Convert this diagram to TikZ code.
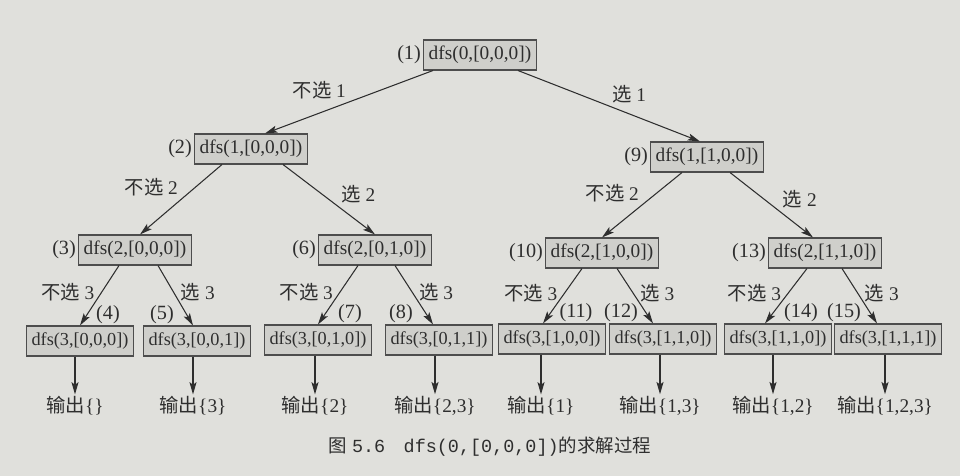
\documentclass[tikz,border=0pt]{standalone}
\usepackage{fontspec}
\setmainfont{Liberation Serif}
\setmonofont{Liberation Mono}
\newfontfamily\cjk{Noto Sans CJK SC}
\usetikzlibrary{arrows.meta}
\definecolor{dfspaper}{HTML}{E0E0DC}
\definecolor{dfsbox}{HTML}{CFCFCB}
\definecolor{dfsink}{HTML}{2E2E2E}

\begin{document}
\begin{tikzpicture}[x=0.2mm, y=-0.2mm,
    every node/.style={text=dfsink, font=\fontsize{11.5}{13}\selectfont},
    every label/.style={inner sep=1pt},
    call/.style={draw=dfsink!85, fill=dfsbox, minimum height=6mm, inner xsep=3pt, inner ysep=1pt, line width=0.6pt, label distance=0.6mm, font=\fontsize{11}{13}\selectfont},
    leaf/.style={call, font=\fontsize{10.4}{12}\selectfont},
    arr/.style={draw=dfsink, line width=0.6pt, -{Stealth[length=7pt, width=4pt, inset=1.5pt]}},
    choice/.style={font=\fontsize{11}{13}\selectfont, inner sep=1.5pt},
    result/.style={font=\fontsize{11}{13}\selectfont, inner sep=1pt}
  ]
  \fill[dfspaper] (0,0) rectangle (960,476);

  % calls, level 0 and 1
  \node[call, label=left:(1)] (n1) at (480,55) {dfs(0,[0,0,0])};
  \node[call, label=left:(2)] (n2) at (251,149) {dfs(1,[0,0,0])};
  \node[call, label=left:(9)] (n9) at (707,157) {dfs(1,[1,0,0])};

  % calls, level 2
  \node[call, label=left:(3)] (n3) at (135,250) {dfs(2,[0,0,0])};
  \node[call, label=left:(6)] (n6) at (375,250) {dfs(2,[0,1,0])};
  \node[call, label=left:(10)] (n10) at (602,253) {dfs(2,[1,0,0])};
  \node[call, label=left:(13)] (n13) at (825,253) {dfs(2,[1,1,0])};

  % calls, level 3
  \node[leaf, label={[xshift=5.6mm]above:(4)}] (n4) at (80,341) {dfs(3,[0,0,0])};
  \node[leaf, label={[xshift=-7mm]above:(5)}] (n5) at (197,341) {dfs(3,[0,0,1])};
  \node[leaf, label={[xshift=6.4mm]above:(7)}] (n7) at (318,340) {dfs(3,[0,1,0])};
  \node[leaf, label={[xshift=-7.6mm]above:(8)}] (n8) at (439,340) {dfs(3,[0,1,1])};
  \node[leaf, label={[xshift=4.8mm]above:(11)}] (n11) at (552,339) {dfs(3,[1,0,0])};
  \node[leaf, label={[xshift=-8.4mm]above:(12)}] (n12) at (663,339) {dfs(3,[1,1,0])};
  \node[leaf, label={[xshift=4.6mm]above:(14)}] (n14) at (778,339) {dfs(3,[1,1,0])};
  \node[leaf, label={[xshift=-8.8mm]above:(15)}] (n15) at (888,339) {dfs(3,[1,1,1])};

  % outputs
  \node[result] (o4) at (75,406) {{\cjk 输出}\{\}};
  \node[result] (o5) at (193,406) {{\cjk 输出}\{3\}};
  \node[result] (o7) at (315,406) {{\cjk 输出}\{2\}};
  \node[result] (o8) at (435,406) {{\cjk 输出}\{2,3\}};
  \node[result] (o11) at (541,406) {{\cjk 输出}\{1\}};
  \node[result] (o12) at (660,406) {{\cjk 输出}\{1,3\}};
  \node[result] (o14) at (773,406) {{\cjk 输出}\{1,2\}};
  \node[result] (o15) at (885,406) {{\cjk 输出}\{1,2,3\}};

  % choices
  \draw[arr] ([xshift=-9.4mm]n1.south) -- node[choice, midway, above left] {{\cjk 不选} 1} ([xshift=2.8mm]n2.north);
  \draw[arr] ([xshift=7.6mm]n1.south) -- node[choice, midway, above right] {{\cjk 选} 1} ([xshift=-1.4mm]n9.north);
  \draw[arr] ([xshift=-5.8mm]n2.south) -- node[choice, midway, above left] {{\cjk 不选} 2} ([xshift=1mm]n3.north);
  \draw[arr] ([xshift=6.4mm]n2.south) -- node[choice, pos=0.6, above right] {{\cjk 选} 2} (n6.north);
  \draw[arr] ([xshift=-5mm]n9.south) -- node[choice, midway, above left] {{\cjk 不选} 2} (n10.north);
  \draw[arr] ([xshift=4.6mm]n9.south) -- node[choice, pos=0.6, above right] {{\cjk 选} 2} ([xshift=-2.4mm]n13.north);

  \draw[arr] ([xshift=-3.2mm]n3.south) -- node[choice, pos=0.45, left=0.8mm] {{\cjk 不选} 3} (n4.north);
  \draw[arr] ([xshift=4.6mm]n3.south) -- node[choice, pos=0.45, right=0.8mm] {{\cjk 选} 3} ([xshift=-0.8mm]n5.north);
  \draw[arr] ([xshift=-3.4mm]n6.south) -- node[choice, pos=0.45, left=0.8mm] {{\cjk 不选} 3} (n7.north);
  \draw[arr] ([xshift=4mm]n6.south) -- node[choice, pos=0.45, right=0.8mm] {{\cjk 选} 3} ([xshift=-1.2mm]n8.north);
  \draw[arr] ([xshift=-4mm]n10.south) -- node[choice, pos=0.45, left=0.8mm] {{\cjk 不选} 3} ([xshift=-1.8mm]n11.north);
  \draw[arr] ([xshift=3mm]n10.south) -- node[choice, pos=0.45, right=0.8mm] {{\cjk 选} 3} ([xshift=-2mm]n12.north);
  \draw[arr] ([xshift=-3.6mm]n13.south) -- node[choice, pos=0.45, left=0.8mm] {{\cjk 不选} 3} ([xshift=-2.6mm]n14.north);
  \draw[arr] ([xshift=3.4mm]n13.south) -- node[choice, pos=0.45, right=0.8mm] {{\cjk 选} 3} ([xshift=-2.2mm]n15.north);

  % leaves to outputs
  \draw[arr] (n4.south -| o4.north) -- (o4.north);
  \draw[arr] (n5.south -| o5.north) -- (o5.north);
  \draw[arr] (n7.south -| o7.north) -- (o7.north);
  \draw[arr] (n8.south -| o8.north) -- (o8.north);
  \draw[arr] (n11.south -| o11.north) -- (o11.north);
  \draw[arr] (n12.south -| o12.north) -- (o12.north);
  \draw[arr] (n14.south -| o14.north) -- (o14.north);
  \draw[arr] (n15.south -| o15.north) -- (o15.north);

  % caption
  \node[font=\fontsize{10.5}{12}\selectfont] (caption) at (490,447)
       {{\cjk 图}~\texttt{5.6}\quad\texttt{dfs(0,[0,0,0])}{\cjk 的求解过程}};
\end{tikzpicture}
\end{document}
